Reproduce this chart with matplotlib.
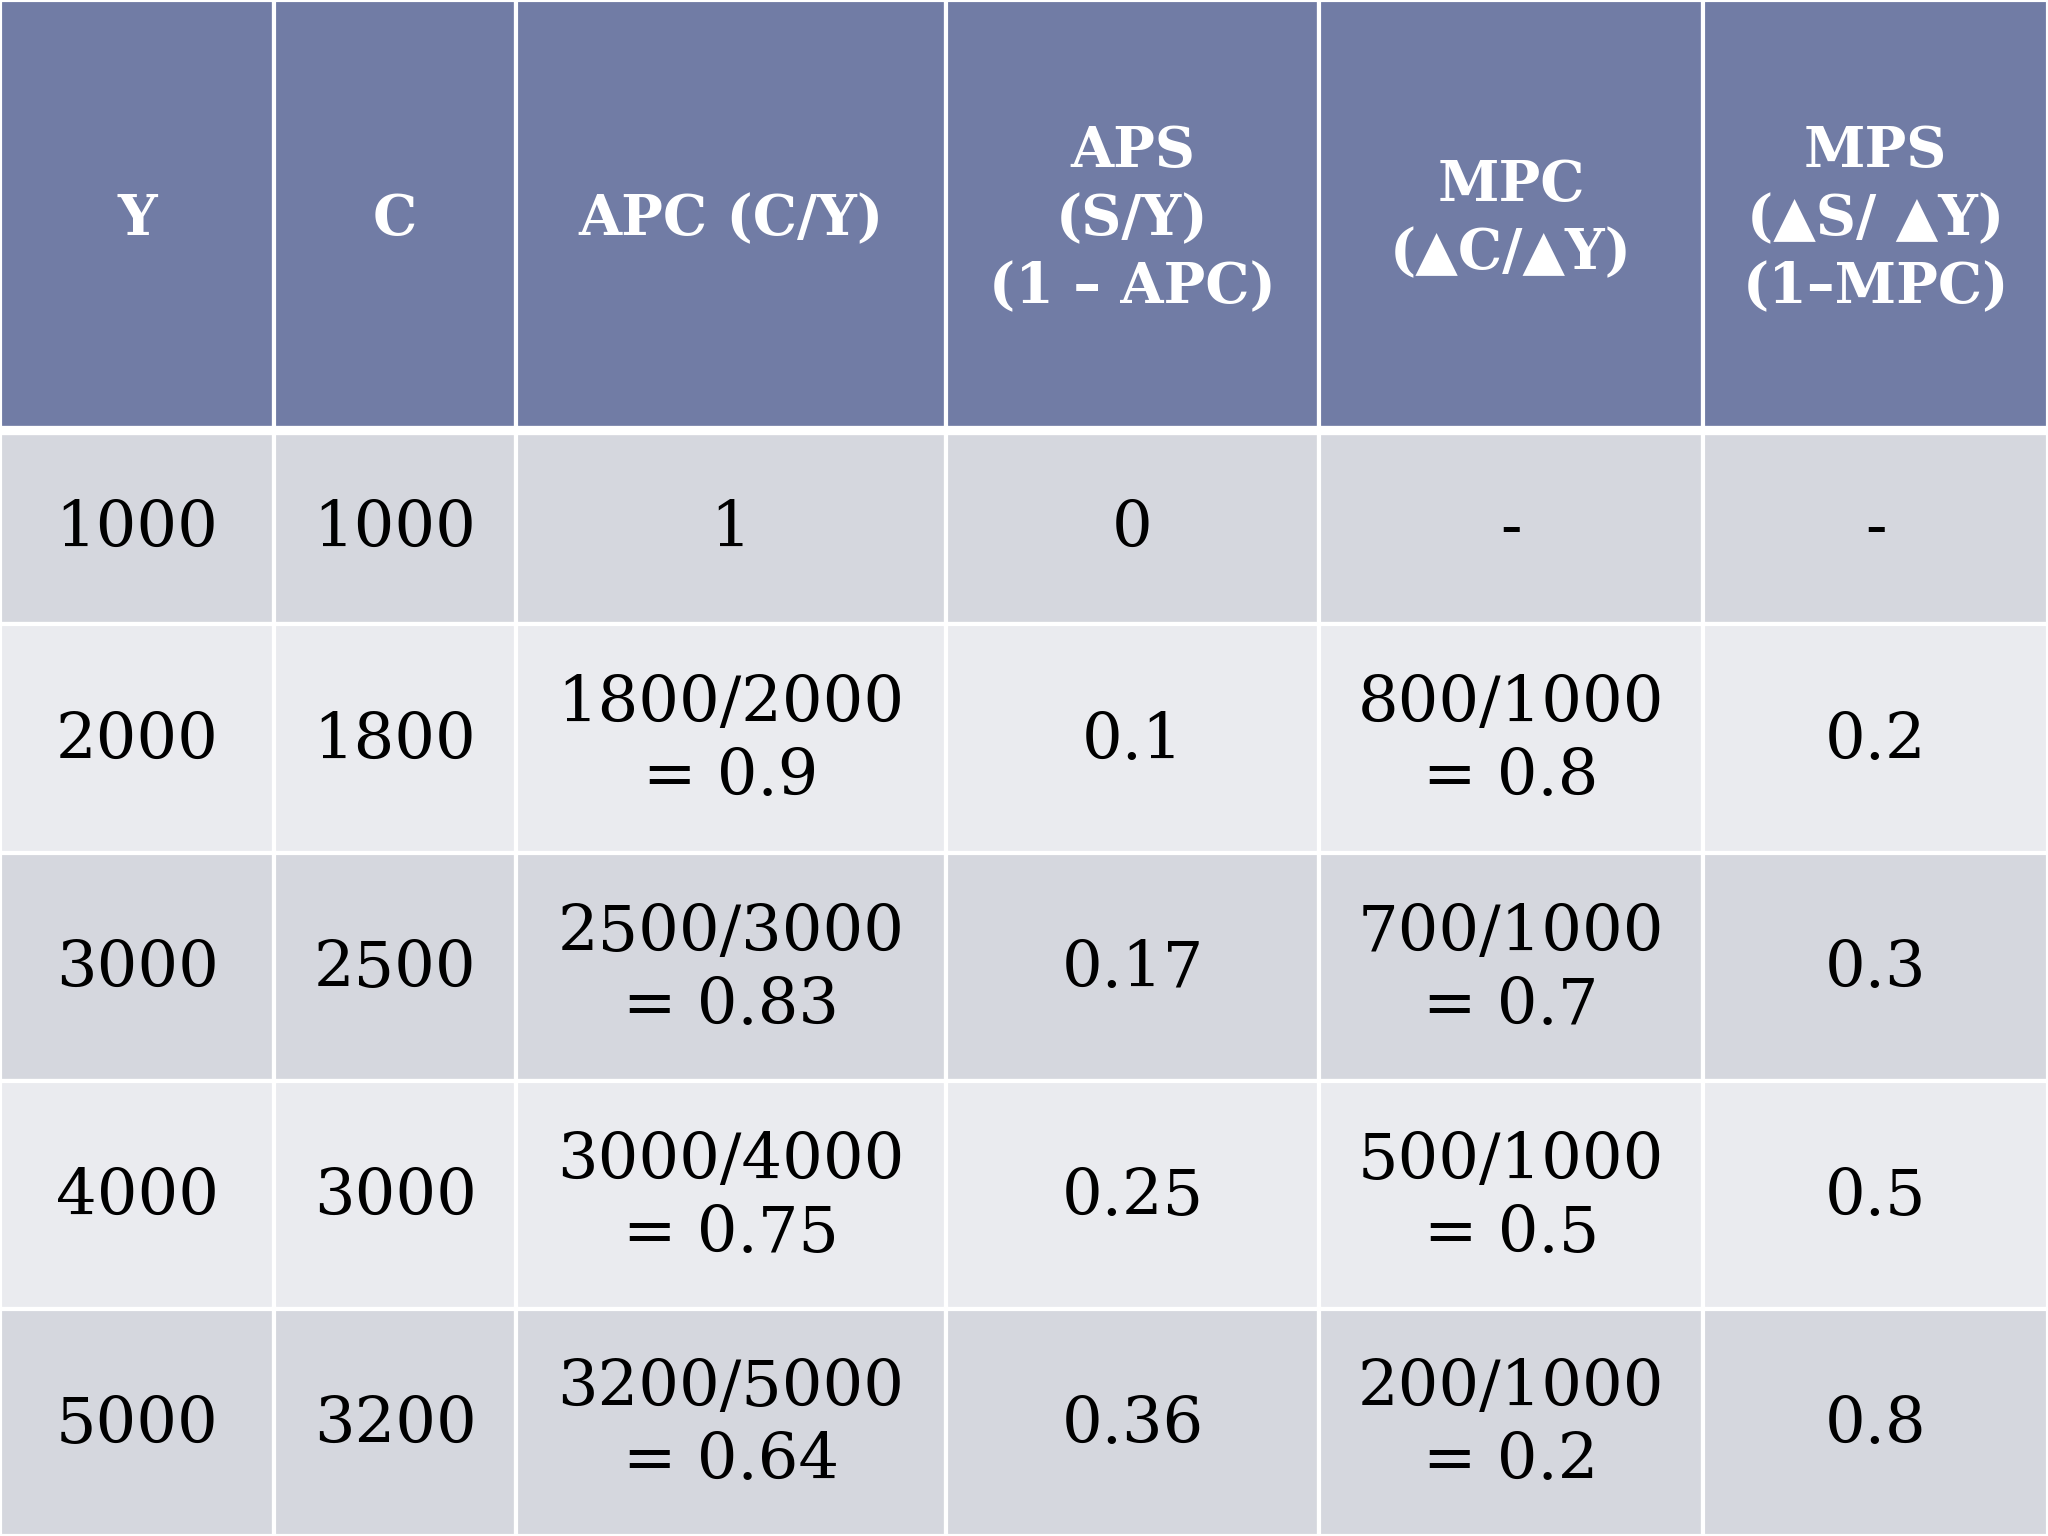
import matplotlib.pyplot as plt
from matplotlib.patches import Rectangle

headers = ["Y", "C", "APC (C/Y)", "APS\n(S/Y)\n(1 – APC)", "MPC\n(▲C/▲Y)", "MPS\n(▲S/ ▲Y)\n(1–MPC)"]
y_vals = ["1000", "2000", "3000", "4000", "5000"]
c_vals = ["1000", "1800", "2500", "3000", "3200"]
apc = ["1", "1800/2000\n= 0.9", "2500/3000\n= 0.83", "3000/4000\n= 0.75", "3200/5000\n= 0.64"]
aps = ["0", "0.1", "0.17", "0.25", "0.36"]
mpc = ["-", "800/1000\n= 0.8", "700/1000\n= 0.7", "500/1000\n= 0.5", "200/1000\n= 0.2"]
mps = ["-", "0.2", "0.3", "0.5", "0.8"]

# boundaries in reference pixels (1568x1176 view)
col_x = [0, 210, 395, 724, 1010, 1304, 1568]
row_y = [0, 328, 478, 653, 828, 1002, 1176]

fig = plt.figure(figsize=(20.48, 15.36), dpi=100)
ax = fig.add_axes([0, 0, 1, 1])
ax.set_xlim(0, 1568)
ax.set_ylim(1176, 0)
ax.axis("off")
fig.patch.set_facecolor("white")

cols = [y_vals, c_vals, apc, aps, mpc, mps]
for j in range(6):
    x0, x1 = col_x[j], col_x[j + 1]
    ax.add_patch(Rectangle((x0, 0), x1 - x0, row_y[1], facecolor="#717ca5",
                           edgecolor="white", lw=3))
    ax.text((x0 + x1) / 2, row_y[1] / 2 + 4, headers[j], ha="center", va="center",
            color="white", fontsize=40, fontweight="bold", family="DejaVu Serif",
            linespacing=1.3)
    for i in range(5):
        y0, y1 = row_y[i + 1], row_y[i + 2]
        fc = "#d5d7de" if i % 2 == 0 else "#eaebef"
        ax.add_patch(Rectangle((x0, y0), x1 - x0, y1 - y0, facecolor=fc,
                               edgecolor="white", lw=3))
        ax.text((x0 + x1) / 2, (y0 + y1) / 2 + 2, cols[j][i], ha="center", va="center",
                color="black", fontsize=46, family="DejaVu Serif", linespacing=1.25)

ax.plot([0, 1568], [row_y[1] + 2, row_y[1] + 2], color="white", lw=6)
fig.savefig("out.png", dpi=100)
